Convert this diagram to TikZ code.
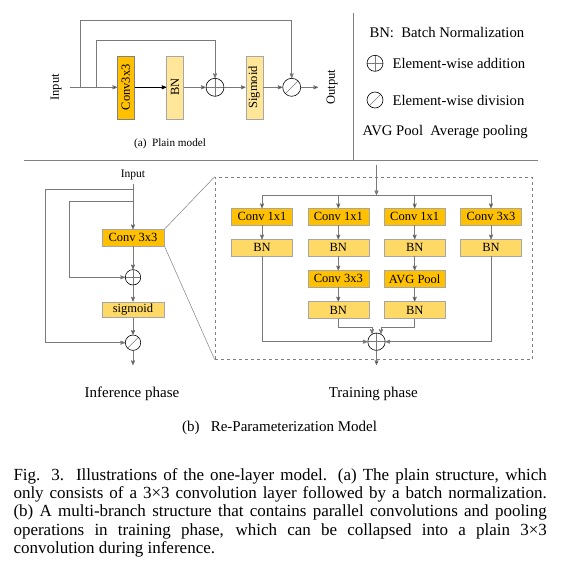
\documentclass[tikz,border=0pt]{standalone}
\usepackage{fontspec}
\setmainfont{Liberation Serif}
\usepackage{xcolor}
\usetikzlibrary{positioning}
\usetikzlibrary{arrows}
\usetikzlibrary{calc}

\definecolor{convorange}{HTML}{FFC000}
\definecolor{bnyellow}{HTML}{FFD966}
\definecolor{bnpale}{HTML}{FFE699}
\definecolor{wiregray}{HTML}{7A7A7A}

\begin{document}
\begin{tikzpicture}[x=1pt,y=-1pt,>=stealth',node distance=14pt,
    link/.style={draw=wiregray,line width=0.75pt},
    box/.style={draw=gray!70,line width=0.4pt,inner sep=0pt,minimum width=61pt,
        minimum height=16.7pt,font=\fontsize{12.5}{14}\selectfont},
    conv/.style={box,fill=convorange},
    bn/.style={box,fill=bnyellow},
    tall/.style={box,rotate=90,minimum width=63pt,minimum height=17pt},
    add/.style={circle,draw,line width=0.6pt,inner sep=0pt,minimum size=18pt,
        path picture={\draw[wiregray,line width=0.6pt]
            (path picture bounding box.north) -- (path picture bounding box.south)
            (path picture bounding box.west) -- (path picture bounding box.east);}},
    dvd/.style={circle,draw,line width=0.6pt,inner sep=0pt,minimum size=18pt,
        path picture={\draw[wiregray,line width=0.6pt]
            (path picture bounding box.south west) -- (path picture bounding box.north east);}},
    label text/.style={font=\fontsize{12.5}{14}\selectfont},
    legend text/.style={anchor=west,font=\fontsize{14.7}{17}\selectfont}]
  \useasboundingbox (0,0) rectangle (568,576);

  % (a) plain model
  \node[label text,rotate=90] (1) at (56,87.3) {Input};
  \coordinate (2) at (70,87.3);
  \node[tall,fill=convorange,draw=gray] (3) at (125.8,87.3) {Conv3x3};
  \node[tall,fill=bnpale] (4) at (175,87.3) {BN};
  \node[add] (5) at (215,87.3) {};
  \node[tall,fill=bnpale] (6) at (254.2,87.3) {Sigmoid};
  \node[dvd] (7) at (291.7,87.3) {};
  \coordinate (8) at (318,87.3);
  \node[label text,rotate=90] (9) at (332,87.3) {Output};
  \coordinate (10) at (80,87.3);
  \coordinate (11) at (96.7,87.3);

  \path[link]
    (2) edge[->] (3)
    (3) edge[->,draw=black] (4)
    (4) edge[->] (5)
    (5) edge[->] (6)
    (6) edge[->] (7)
    (7) edge[->] (8);
  \draw[link,->] (10) -- (80,20.7) -| (7);
  \draw[link,->] (11) -- (96.7,40) -| (5);

  \node[font=\fontsize{11.2}{13}\selectfont] (12) at (170,144) {(a)\ \ Plain model};

  % legend
  \node[legend text] (13) at (366,33) {BN:\ \ Batch Normalization};
  \node[add,minimum size=16pt] (14) at (375,63.3) {};
  \node[legend text] (15) at (389,63.3) {Element-wise addition};
  \node[dvd,minimum size=16pt] (16) at (375,100) {};
  \node[legend text] (17) at (389,100) {Element-wise division};
  \node[legend text] (18) at (359,132) {AVG Pool\ \ Average pooling};

  \draw[gray,line width=0.6pt] (353,13) -- (353,160);
  \draw[gray,line width=0.6pt] (24,160) -- (538,160);

  % (b) inference phase
  \node[font=\fontsize{11.5}{13}\selectfont] (20) at (133,175) {Input};
  \node[conv,minimum width=62.6pt] (21) at (133,237.7) {Conv 3x3};
  \node[add,minimum size=15.4pt] (22) at (133,277.3) {};
  \node[bn,minimum width=62.6pt,minimum height=15.6pt] (23) at (133,309.5) {sigmoid};
  \node[dvd,minimum size=15.4pt] (24) at (133,342.7) {};
  \coordinate (25) at (133,365);
  \coordinate (26) at (133,189.3);
  \coordinate (27) at (133,201.7);

  \path[link]
    (20) edge[->] (21)
    (21) edge[->] (22)
    (22) edge[->] (23)
    (23) edge[->] (24)
    (24) edge[->] (25);
  \draw[link,->] (26) -| (45,342.7) -- (24);
  \draw[link,->] (27) -| (69,277.3) -- (22);

  % (b) training phase
  \node[draw=gray,dashed,line width=0.6pt,minimum width=317.5pt,minimum height=182.3pt]
    (30) at (373.75,268.15) {};
  \draw[gray,line width=0.5pt] (21.north east) -- (30.north west);
  \draw[gray,line width=0.5pt] (21.south east) -- (30.south west);

  \coordinate (31) at (376.5,165);
  \coordinate (32) at (376.5,195);
  \node[conv] (33) at (262,216.7) {Conv 1x1};
  \node[conv] (34) at (338.3,216.7) {Conv 1x1};
  \node[conv] (35) at (414.7,216.7) {Conv 1x1};
  \node[conv] (36) at (491,216.7) {Conv 3x3};
  \node[bn] (37) [below=of 33] {BN};
  \node[bn] (38) [below=of 34] {BN};
  \node[bn] (39) [below=of 35] {BN};
  \node[bn] (40) [below=of 36] {BN};
  \node[conv] (41) [below=of 38] {Conv 3x3};
  \node[conv] (42) [below=of 39] {AVG Pool};
  \node[bn] (43) [below=of 41] {BN};
  \node[bn] (44) [below=of 42] {BN};
  \node[add,minimum size=17.4pt] (45) at (376.5,341.7) {};
  \coordinate (46) at (376.5,365);

  \draw[link,->] (31) -- (32);
  \draw[link] (33 |- 32) -- (36 |- 32);
  \path[link]
    (33 |- 32) edge[->] (33)
    (34 |- 32) edge[->] (34)
    (35 |- 32) edge[->] (35)
    (36 |- 32) edge[->] (36)
    (33) edge[->] (37)
    (34) edge[->] (38)
    (35) edge[->] (39)
    (36) edge[->] (40)
    (38) edge[->] (41)
    (39) edge[->] (42)
    (41) edge[->] (43)
    (42) edge[->] (44)
    (45) edge[->] (46);
  \draw[link,->] (37) |- (45);
  \draw[link,->] (40) |- (45);
  \draw[link,->] (43.south) -- ++(0,9) -| (45.120);
  \draw[link,->] (44.south) -- ++(0,9) -| (45.60);

  \node[font=\fontsize{15}{17}\selectfont] (47) at (132,394) {Inference phase};
  \node[font=\fontsize{15}{17}\selectfont] (48) at (373.3,394) {Training phase};
  \node[font=\fontsize{15}{17}\selectfont] (49) at (279.5,427.5) {(b)\ \ \ Re-Parameterization Model};

  % caption
  \node[anchor=north west,inner sep=0pt,text width=533.4pt,align=justify,
        font=\fontsize{17}{18.4}\selectfont] (50) at (13.3,468)
    {Fig. 3.\ \ Illustrations of the one-layer model. (a) The plain structure, which\linebreak
     only consists of a 3×3 convolution layer followed by a batch normalization.\linebreak
     (b) A multi-branch structure that contains parallel convolutions and pooling\linebreak
     operations in training phase, which can be collapsed into a plain 3×3\linebreak
     convolution during inference.};
\end{tikzpicture}
\end{document}
